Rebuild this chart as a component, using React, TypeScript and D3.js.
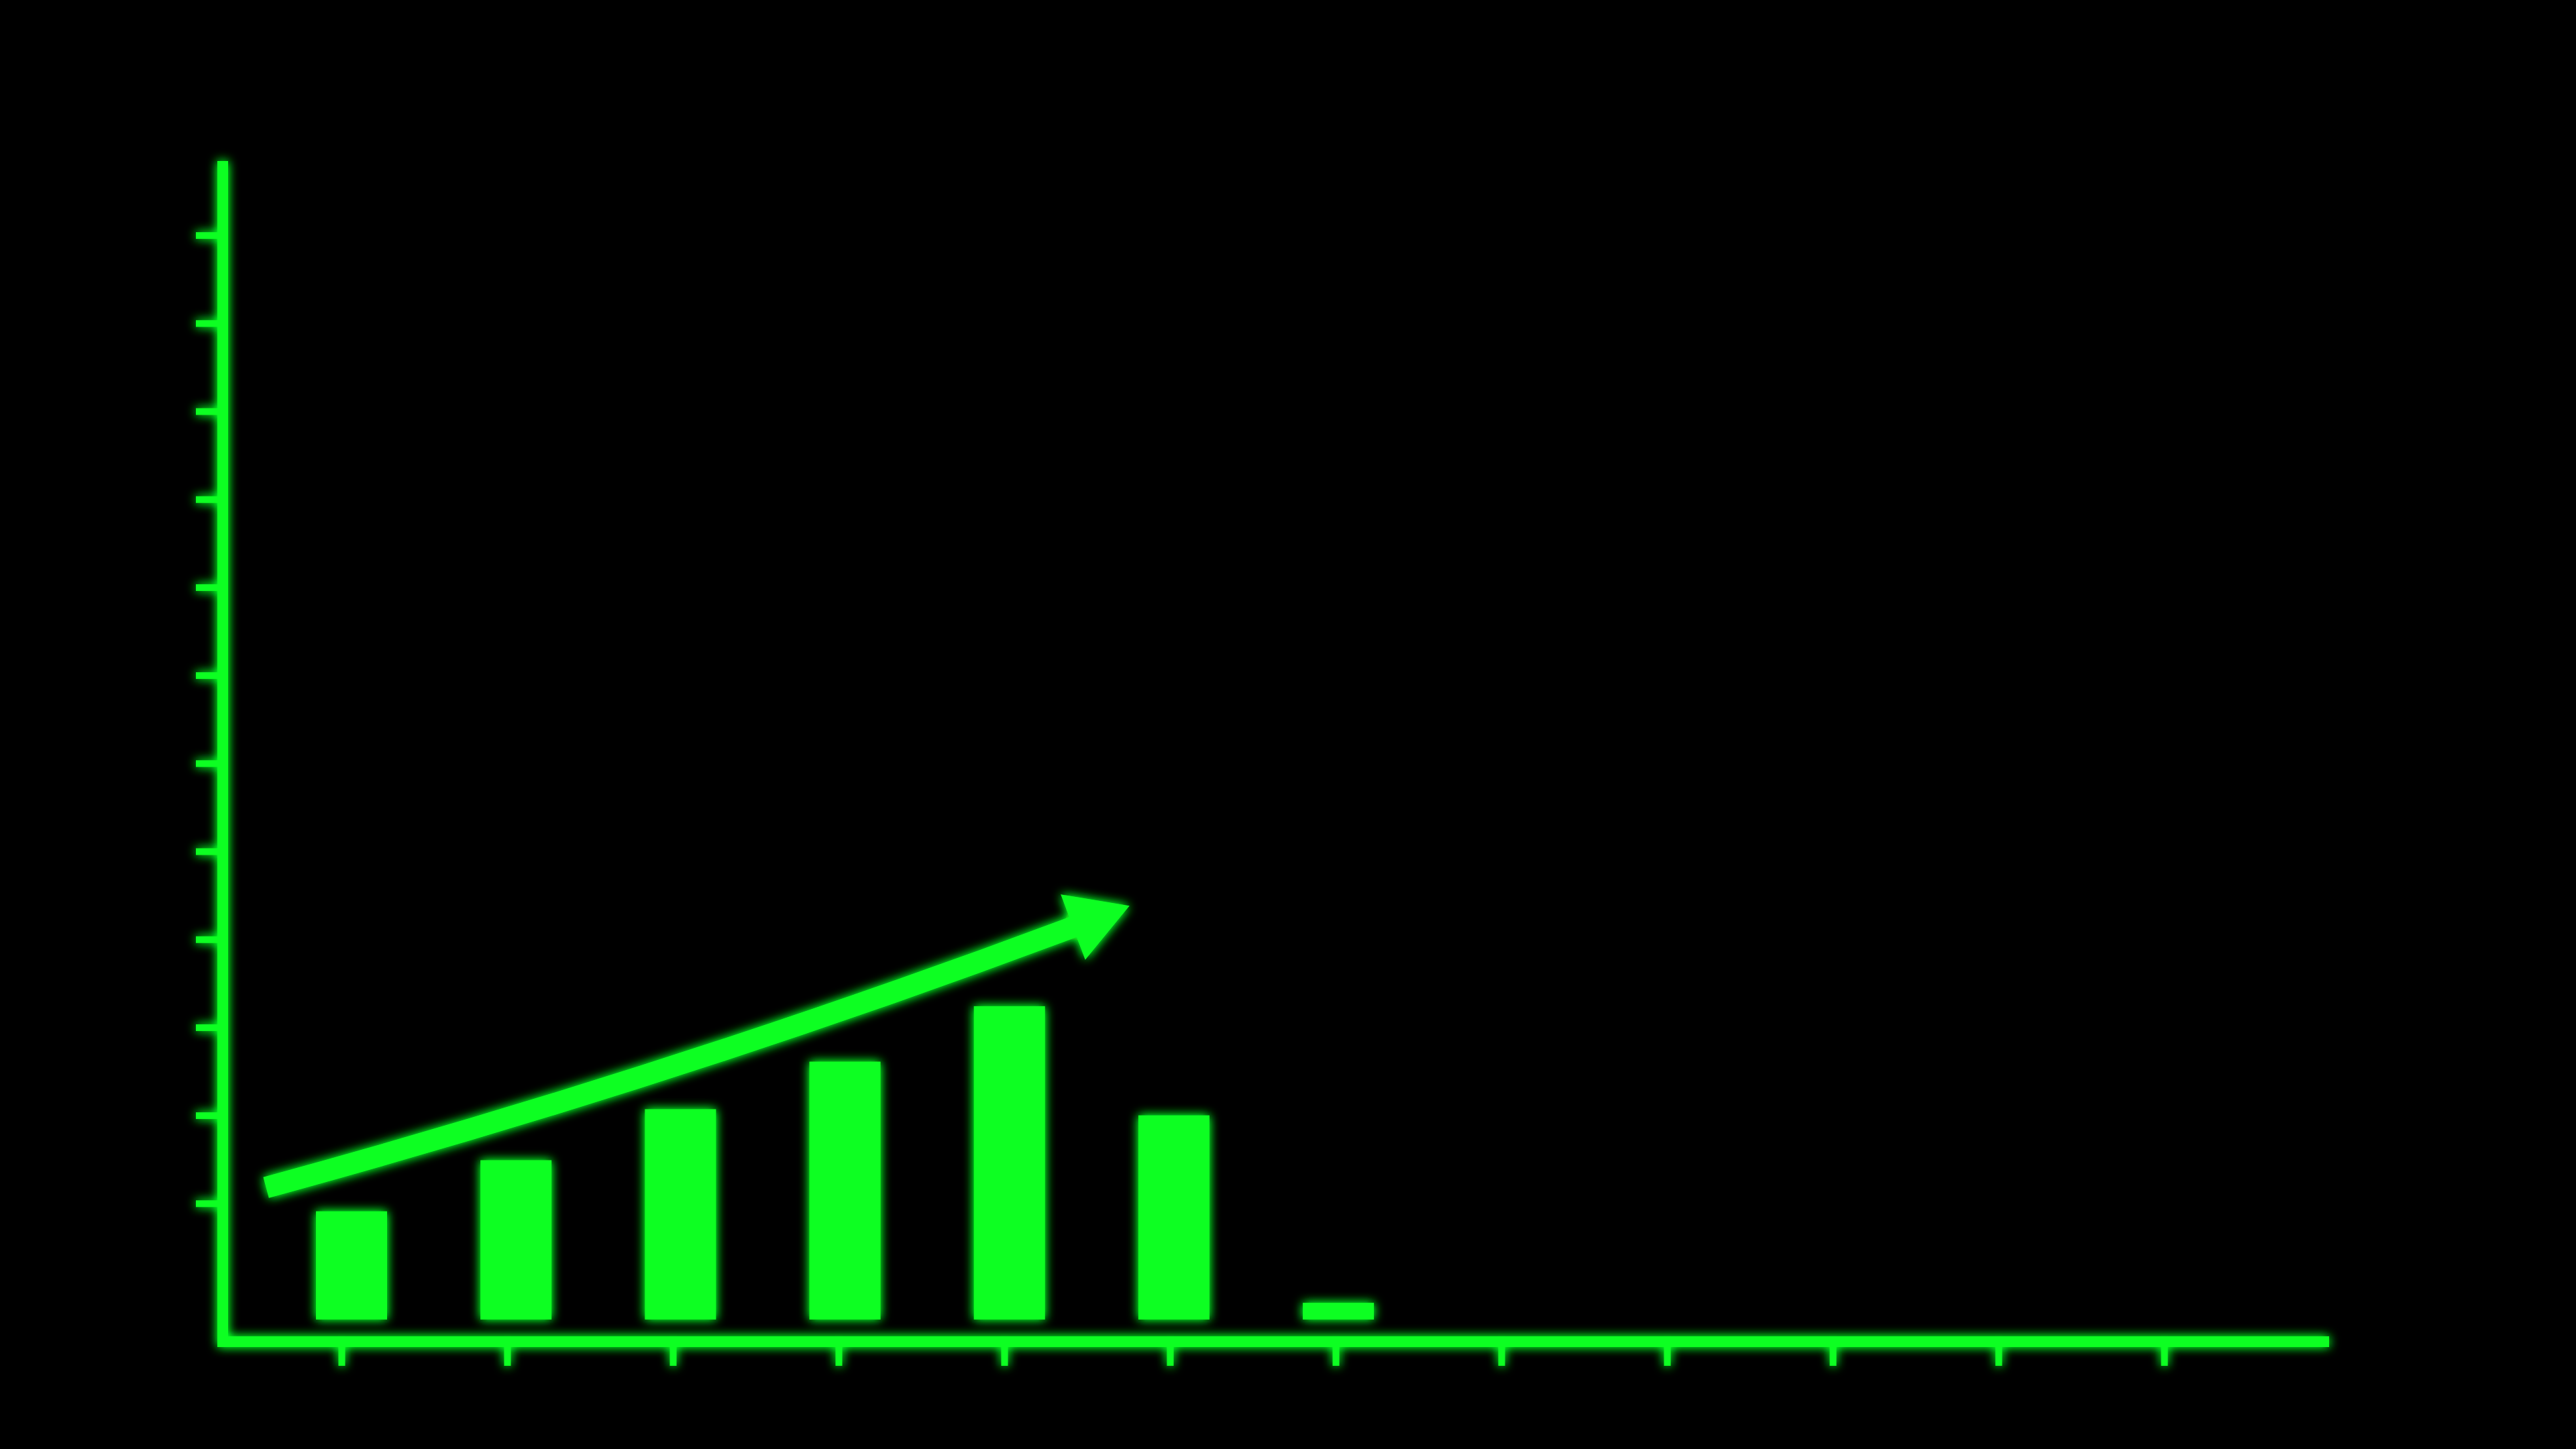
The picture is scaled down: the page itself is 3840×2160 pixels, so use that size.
import { useEffect, useRef } from "react";
import * as d3 from "d3";

// slots along the x axis (12 ticks, only the first 7 carry a bar)
const periods = [0, 1, 2, 3, 4, 5, 6, 7, 8, 9, 10, 11];
const barValues = [12.3, 18.1, 23.9, 29.3, 35.6, 23.2, 1.9];
const yTickValues = [13.2, 23.2, 33.2, 43.2, 53.2, 63.2, 73.2, 83.2, 93.2, 103.2, 113.2, 123.2];
// trend arrow: start, bend, end of the shaft (in period / value units)
const trendArrow = [
  { x: -0.455, y: 15.0 },
  { x: 2.02, y: 27.7 },
  { x: 4.43, y: 44.7 },
];

const GREEN = "#11ff22";

export default function App() {
  const svgRef = useRef<SVGSVGElement>(null);

  useEffect(() => {
    if (!svgRef.current) return;
    document.body.style.margin = "0";
    document.body.style.background = "#000";
    const width = 3840;
    const height = 2160;

    const svg = d3.select(svgRef.current);
    svg.selectAll("*").remove();
    svg.attr("width", width).attr("height", height);

    svg.append("rect").attr("width", width).attr("height", height).attr("fill", "#000");

    // glow
    const defs = svg.append("defs");
    const filter = defs.append("filter")
      .attr("id", "glow")
      .attr("filterUnits", "userSpaceOnUse")
      .attr("x", 0).attr("y", 0)
      .attr("width", width).attr("height", height);
    filter.append("feGaussianBlur")
      .attr("in", "SourceGraphic")
      .attr("stdDeviation", 8)
      .attr("result", "blur");
    filter.append("feComponentTransfer")
      .attr("in", "blur")
      .attr("result", "glowSoft")
      .append("feFuncA").attr("type", "linear").attr("slope", 1.3);
    const merge = filter.append("feMerge");
    merge.append("feMergeNode").attr("in", "glowSoft");
    merge.append("feMergeNode").attr("in", "SourceGraphic");

    const g = svg.append("g").attr("filter", "url(#glow)");

    // scales
    const axisLeftX = 332;
    const axisBottomY = 2000;
    const xScale = d3.scaleLinear().domain([0, 11]).range([509, 3226]);
    const barX = d3.scaleLinear().domain([0, 11]).range([524, 3221]);
    const yScale = d3.scaleLinear().domain([0, 130]).range([1967, 261.4]);

    // axes lines
    g.append("line")
      .attr("x1", axisLeftX).attr("x2", axisLeftX)
      .attr("y1", 240).attr("y2", axisBottomY + 8)
      .attr("stroke", GREEN).attr("stroke-width", 16);
    g.append("line")
      .attr("x1", axisLeftX - 8).attr("x2", 3472)
      .attr("y1", axisBottomY).attr("y2", axisBottomY)
      .attr("stroke", GREEN).attr("stroke-width", 16);

    // ticks
    const yAxis = d3.axisLeft(yScale)
      .tickValues(yTickValues)
      .tickSize(32)
      .tickSizeOuter(0)
      .tickFormat(() => "");
    const gy = g.append("g")
      .attr("transform", `translate(${axisLeftX - 8},0)`)
      .call(yAxis);
    gy.select(".domain").remove();
    gy.selectAll("line")
      .attr("stroke", GREEN)
      .attr("stroke-width", 10);

    const xAxis = d3.axisBottom(xScale)
      .tickValues(periods)
      .tickSize(28)
      .tickSizeOuter(0)
      .tickFormat(() => "");
    const gx = g.append("g")
      .attr("transform", `translate(0,${axisBottomY + 8})`)
      .call(xAxis);
    gx.select(".domain").remove();
    gx.selectAll("line")
      .attr("stroke", GREEN)
      .attr("stroke-width", 10);

    // bars
    const barWidth = 106;
    g.selectAll("rect.bar")
      .data(barValues)
      .enter()
      .append("rect")
      .attr("class", "bar")
      .attr("x", (_, i) => barX(periods[i]) - barWidth / 2)
      .attr("y", d => yScale(d))
      .attr("width", barWidth)
      .attr("height", d => yScale(0) - yScale(d))
      .attr("fill", GREEN);

    // trend arrow shaft (quadratic curve)
    const [s, c, e] = trendArrow.map(p => [xScale(p.x), yScale(p.y)]);
    const shaft = d3.path();
    shaft.moveTo(s[0], s[1]);
    shaft.quadraticCurveTo(c[0], c[1], e[0], e[1]);
    g.append("path")
      .attr("d", shaft.toString())
      .attr("fill", "none")
      .attr("stroke", GREEN)
      .attr("stroke-width", 32)
      .attr("stroke-linecap", "butt");

    // arrow head
    const dx = e[0] - c[0];
    const dy = e[1] - c[1];
    const len = Math.hypot(dx, dy);
    const ux = dx / len, uy = dy / len;
    const headLen = 90, headHalf = 52;
    const back = 4;
    const bx = e[0] - ux * back, by = e[1] - uy * back;
    const head = [
      [bx + ux * headLen, by + uy * headLen],
      [bx - uy * headHalf, by + ux * headHalf],
      [bx + uy * headHalf, by - ux * headHalf],
    ];
    g.append("path")
      .attr("d", d3.line()(head as [number, number][]) + "Z")
      .attr("fill", GREEN);
  }, []);

  return (
    <div style={{ position: "absolute", left: 0, top: 0 }}>
      <svg ref={svgRef} style={{ display: "block" }}></svg>
    </div>
  );
}
